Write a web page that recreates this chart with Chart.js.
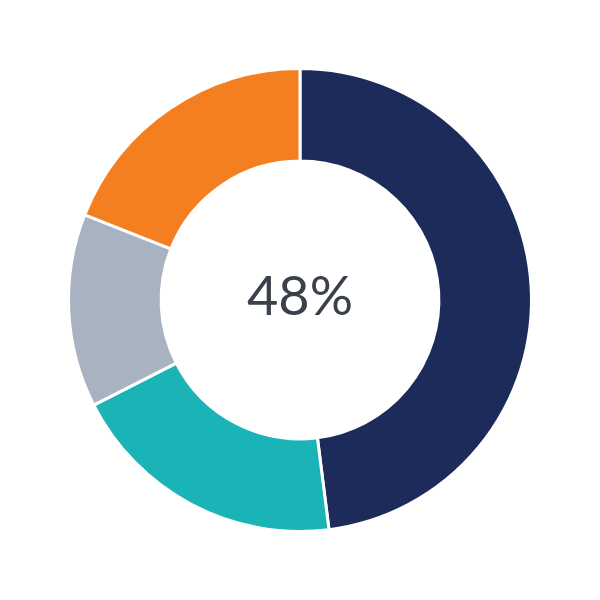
<!DOCTYPE html>
<html>
<head>
<meta charset="utf-8">
<script src="https://cdn.jsdelivr.net/npm/chart.js@4"></script>
<style>
html,body{margin:0;padding:0;background:#fff;}
#wrap{width:600px;height:600px;}
</style>
</head>
<body>
<div id="wrap"><canvas id="c" width="600" height="600"></canvas></div>
<script>
const categories = ["A", "B", "C", "D"];
const values = [48, 19.5, 13.5, 19];
const colors = ["#1c2b5a", "#1bb4b6", "#a8b2c0", "#f47f20"];
const centerLabel = "48%";

const centerText = {
  id: "centerText",
  afterDraw(chart) {
    const {ctx, chartArea} = chart;
    const cx = (chartArea.left + chartArea.right) / 2;
    const cy = (chartArea.top + chartArea.bottom) / 2;
    ctx.save();
    ctx.font = "400 54px Lato";
    ctx.fillStyle = "#3b414a";
    ctx.textAlign = "center";
    ctx.textBaseline = "middle";
    ctx.fillText(centerLabel, cx, cy - 2);
    ctx.restore();
  }
};

new Chart(document.getElementById("c"), {
  type: "doughnut",
  data: {
    labels: categories,
    datasets: [{
      data: values,
      backgroundColor: colors,
      borderColor: "#ffffff",
      borderWidth: 3,
      hoverOffset: 0
    }]
  },
  options: {
    responsive: false,
    animation: false,
    cutout: "60%",
    layout: {padding: 67},
    plugins: {legend: {display: false}, tooltip: {enabled: false}}
  },
  plugins: [centerText]
});
</script>
</body>
</html>
